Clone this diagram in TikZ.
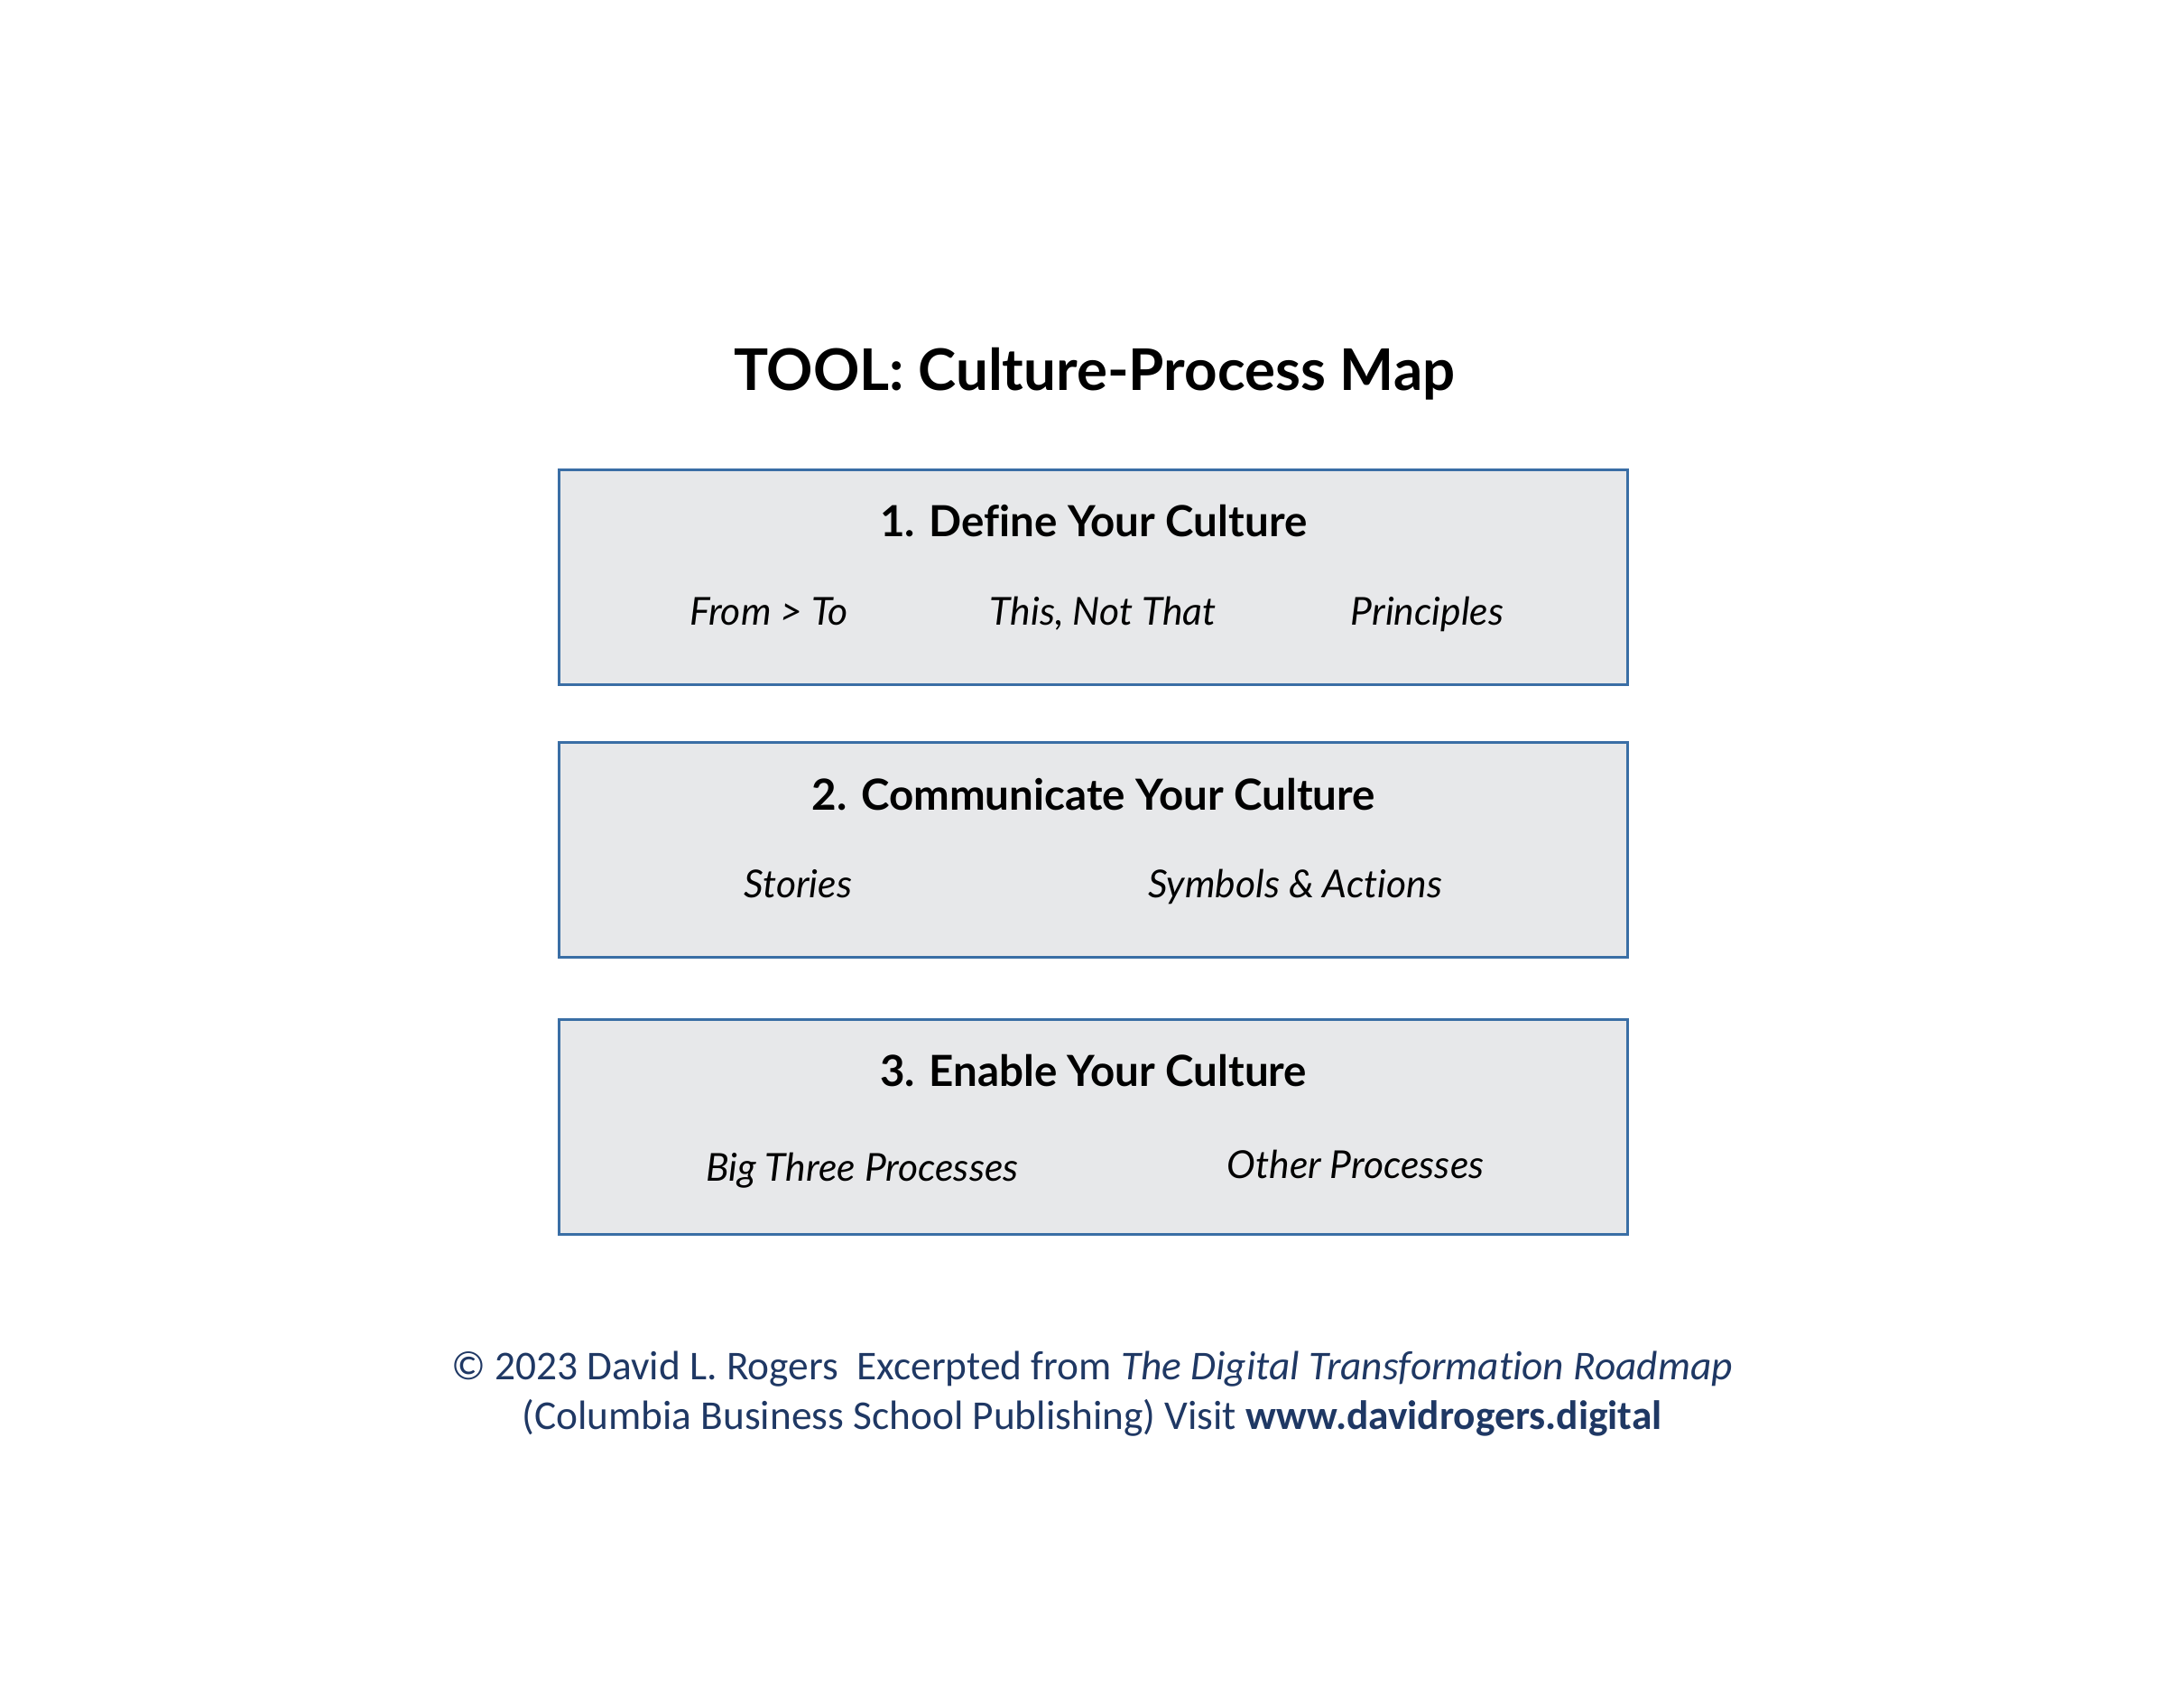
\documentclass[tikz,border=0pt]{standalone}
\usepackage{fontspec}
\setmainfont[Ligatures=NoCommon]{Lato}
\newfontfamily\footfont[Ligatures=NoCommon]{Carlito}
\definecolor{boxfill}{HTML}{E7E8EA}
\definecolor{boxline}{HTML}{3A6EA5}
\definecolor{footblue}{HTML}{1F3864}
\tikzset{
    stagebox/.style={rectangle, draw=boxline, fill=boxfill, line width=1pt, minimum width=13.67cm, minimum height=2.75cm, inner sep=0pt},
    stagehead/.style={anchor=base, font=\fontsize{15.6}{18}\selectfont\bfseries},
    stageitem/.style={anchor=base, font=\fontsize{14}{17}\selectfont\itshape},
    footline/.style={anchor=base, font=\footfont\fontsize{14.9}{17}\selectfont, text=footblue}
}
\begin{document}
\begin{tikzpicture}
    \useasboundingbox (0,0) rectangle (27.94,21.59);

    % Title
    \node[anchor=base, font=\fontsize{20.9}{25}\selectfont\bfseries] (title) at (14.0,16.60) {TOOL: Culture-Process Map};

    % Boxes
    \node[stagebox] (Define) at (13.99,14.21) {};
    \node[stagebox] (Communicate) at (13.99,10.72) {};
    \node[stagebox] (Enable) at (13.99,7.175) {};

    % Headings
    \node[stagehead] (DefineHead) at (13.99,14.73) {1. Define Your Culture};
    \node[stagehead] (CommunicateHead) at (13.99,11.23) {2. Communicate Your Culture};
    \node[stagehead] (EnableHead) at (13.99,7.69) {3. Enable Your Culture};

    % Items
    \node[stageitem] (FromTo) at (9.84,13.60) {From > To};
    \node[stageitem] (ThisNotThat) at (14.11,13.60) {This, Not That};
    \node[stageitem] (Principles) at (18.26,13.60) {Principles};
    \node[stageitem] (Stories) at (10.21,10.11) {Stories};
    \node[stageitem] (Symbols) at (16.57,10.11) {Symbols \& Actions};
    \node[stageitem] (BigThree) at (11.03,6.485) {Big Three Processes};
    \node[stageitem] (Other) at (17.34,6.52) {Other Processes};

    % Footer
    \node[footline] (FootOne) at (13.97,3.94) {© 2023 David L. Rogers\ \ Excerpted from \textit{The Digital Transformation Roadmap}};
    \node[footline] (FootTwo) at (13.97,3.305) {(Columbia Business School Publishing) Visit \textbf{www.davidrogers.digital}};
\end{tikzpicture}
\end{document}
